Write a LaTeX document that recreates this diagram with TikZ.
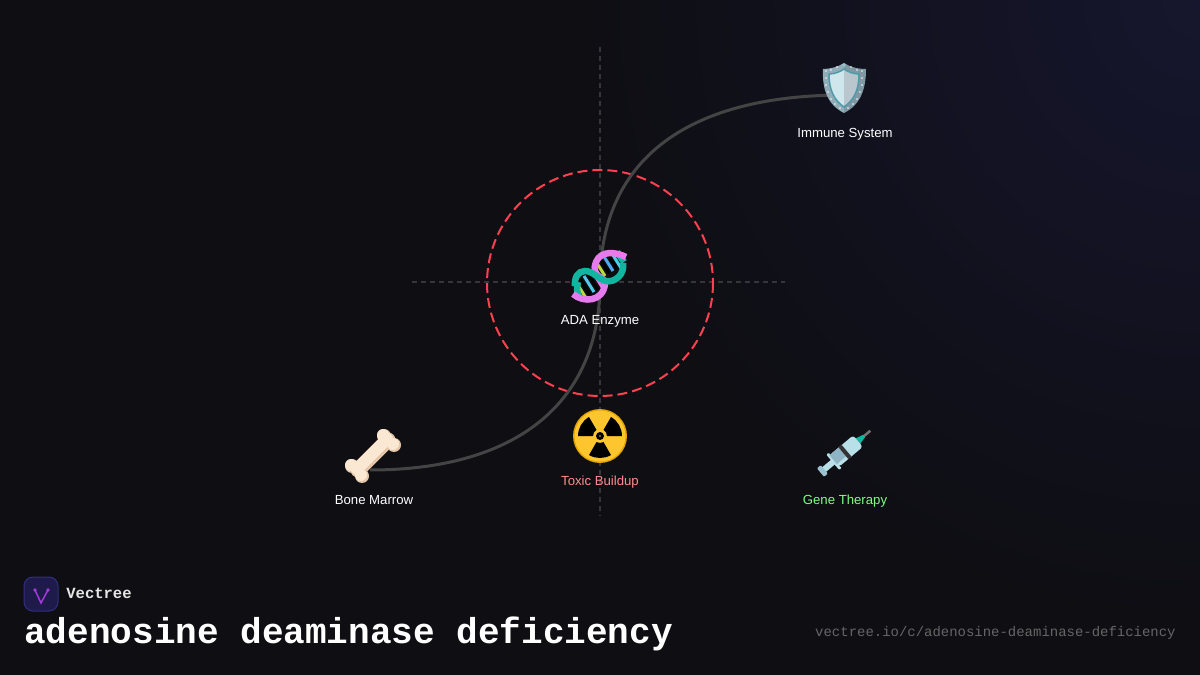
\documentclass[tikz,border=0pt]{standalone}
\usepackage{fontspec}
\setmainfont{Liberation Sans}
\setmonofont{Liberation Mono}
\usetikzlibrary{positioning}
\definecolor{bgdark}{HTML}{0E0E13}
\definecolor{bgblue}{HTML}{16162E}
\definecolor{guide}{HTML}{35353A}
\definecolor{wire}{HTML}{444444}
\definecolor{ring}{HTML}{FF4050}
\definecolor{helixpink}{HTML}{E57BEC}
\definecolor{helixteal}{HTML}{12B5A0}
\definecolor{rungyellow}{HTML}{B5DC3C}
\definecolor{rungblue}{HTML}{4FA8F0}
\definecolor{rungcyan}{HTML}{55C8E8}
\definecolor{bone}{HTML}{FBE8D3}
\definecolor{boneedge}{HTML}{E6C6A8}
\definecolor{glass}{HTML}{B9E0E8}
\definecolor{liquid}{HTML}{8FB4C6}
\definecolor{rim}{HTML}{93ADB8}
\definecolor{rimdark}{HTML}{7F98A4}
\definecolor{plate}{HTML}{CFE6EC}
\definecolor{platedark}{HTML}{B9C6CE}
\definecolor{shieldline}{HTML}{4F9AA8}
\definecolor{trefoil}{HTML}{FDC62E}
\definecolor{trefoiledge}{HTML}{E3A400}
\definecolor{logofill}{HTML}{1E1B4B}
\definecolor{logoline}{HTML}{312E81}
\definecolor{logomark}{HTML}{A03BD8}
\tikzset{
  guideline/.style = {guide, line width = 0.045cm, dash pattern = on 0.1cm off 0.08cm},
  caption/.style = {font = \fontsize{7.5pt}{9pt}\selectfont, text = white, anchor = base},
  rung/.style = {line width = 0.06cm}
}
\begin{document}
\begin{tikzpicture}[x = 0.02cm, y = -0.02cm]
  \useasboundingbox (0, 0) rectangle (1200, 675);
  \fill [bgdark] (0, 0) rectangle (1200, 675);
  \begin{scope}
    \clip (0, 0) rectangle (1200, 675);
    \shade [inner color = bgblue, outer color = bgdark] (1200, 0) circle (620);
  \end{scope}
  % guides
  \coordinate (vtop) at (600, 47);
  \coordinate (vbot) at (600, 515);
  \coordinate (hleft) at (412, 282);
  \coordinate (hright) at (785, 282);
  \coordinate (hub) at (600, 283);
  \draw [guideline] (vtop) -- (vbot);
  \draw [guideline] (hleft) -- (hright);
  \draw [ring, line width = 0.04cm, dash pattern = on 0.2cm off 0.1cm] (hub) circle (113);
  % connector
  \coordinate (marrow) at (370, 470);
  \coordinate (immune) at (845, 95);
  \draw [wire, line width = 0.06cm] (marrow) .. controls (520, 470) and (600, 400) .. (hub)
    .. controls (600, 165) and (680, 95) .. (immune);
  % dna
  \fill [bgdark] (609, 267) circle (13) (589, 286) circle (13);
  \foreach \xa/\ya/\c in {
      581/290/rungyellow, 585/287/black, 589/284/rungcyan, 593/282/black, 597/279/helixpink,
      600/268/rungyellow, 604/265/black, 608/263/rungblue, 612/261/black, 616/260/rungcyan}
    \draw [rung, \c] (\xa-5, \ya-8) -- (\xa+5, \ya+8);
  \draw [helixteal, line width = 0.13cm] (578, 282) .. controls (576, 288) and (577, 293) .. (580, 299);
  \draw [helixteal, line width = 0.13cm] (617, 252) -- (624, 262);
  \draw [helixpink, line width = 0.13cm] (573, 294) .. controls (583, 303) and (603, 302) .. (605, 284)
    .. controls (606, 276) and (590, 278) .. (596, 262) .. controls (601, 250) and (616, 252) .. (626, 257);
  \draw [helixteal, line width = 0.13cm] (623, 263) .. controls (625, 274) and (615, 283) .. (606, 281)
    .. controls (598, 279) and (593, 271) .. (585, 271) .. controls (578, 271) and (574, 278) .. (575, 286);
  \node (ada) at (600, 325) [caption] {ADA Enzyme};
  % shield
  \fill [rim] (844, 63) .. controls (838, 67) and (830, 69) .. (823, 69)
    .. controls (822, 90) and (828, 105) .. (844, 113) -- cycle;
  \fill [rimdark] (844, 63) .. controls (850, 67) and (858, 69) .. (866, 69)
    .. controls (866, 90) and (860, 105) .. (844, 113) -- cycle;
  \fill [plate] (844, 69) .. controls (840, 72) and (834, 74) .. (829, 74)
    .. controls (829, 90) and (834, 100) .. (844, 107) -- cycle;
  \fill [platedark] (844, 69) .. controls (848, 72) and (854, 74) .. (859, 74)
    .. controls (859, 90) and (854, 100) .. (844, 107) -- cycle;
  \draw [shieldline, line width = 0.03cm] (844, 69) .. controls (840, 72) and (834, 74) .. (829, 74)
    .. controls (829, 90) and (834, 100) .. (844, 107) .. controls (854, 100) and (859, 90) .. (859, 74)
    .. controls (854, 74) and (848, 72) .. (844, 69) -- cycle;
  \foreach \xa/\ya in {826/71, 826/78, 826/85, 828/92, 831/99, 835/104, 840/108, 848/108, 853/104,
      857/99, 860/92, 862/85, 862/78, 862/71, 831/70, 837/67, 851/67, 857/70}
    \fill [white!85!plate] (\xa, \ya) circle (0.9);
  \fill [shieldline!60!white] (844, 65) circle (1.8);
  \node (shield) at (845, 138) [caption] {Immune System};
  % bone
  \draw [boneedge, line width = 0.3cm, line cap = round] (358, 470) -- (388, 440);
  \foreach \xa/\ya in {384/436, 394/445, 352/466, 362/476}
    \fill [boneedge] (\xa, \ya) circle (7);
  \draw [bone, line width = 0.24cm, line cap = round] (357, 469) -- (387, 439);
  \foreach \xa/\ya in {383/435, 393/444, 351/465, 361/475}
    \fill [bone] (\xa, \ya) circle (6);
  \node (marrowlabel) at (374, 504) [caption] {Bone Marrow};
  % radiation
  \coordinate (rad) at (600, 436);
  \fill [trefoiledge] (rad) circle (27);
  \fill [trefoil] (rad) circle (25.5);
  \foreach \a in {90, 210, 330}
    \fill [black, shift = {(rad)}] (\a-30:7) arc [start angle = \a-30, end angle = \a+30, radius = 7]
      -- (\a+30:22) arc [start angle = \a+30, end angle = \a-30, radius = 22] -- cycle;
  \fill [black] (rad) circle (4);
  \fill [trefoil!60!black] (rad) circle (1.2);
  \node (toxic) at (600, 485) [caption, text = red!45!white] {Toxic Buildup};
  % syringe
  \begin{scope}[shift = {(845, 452)}, rotate = 40]
    \draw [white!45!black, line width = 0.05cm] (24, 0) -- (33, 0);
    \fill [helixteal] (17, -3.5) -- (25, -1.5) -- (25, 1.5) -- (17, 3.5) -- cycle;
    \fill [glass] (-28, -3) rectangle (-14, 3);
    \fill [liquid!70!glass, rounded corners = 0.02cm] (-32, -5.5) rectangle (-27, 5.5);
    \fill [glass, rounded corners = 0.02cm] (-16, -10) rectangle (-13, 10);
    \fill [glass, rounded corners = 0.06cm] (-14, -7.5) rectangle (17, 7.5);
    \fill [liquid] (-14, -7.5) rectangle (-2, 4);
    \fill [black!80] (-2, -7.5) rectangle (2, 7.5);
  \end{scope}
  \node (gene) at (845, 504) [caption, text = green!50!white] {Gene Therapy};
  % footer
  \draw [fill = logofill, draw = logoline, rounded corners = 0.18cm, line width = 0.02cm] (24, 577) rectangle (58, 611);
  \coordinate (logo) at (41, 603);
  \draw [logomark, line width = 0.03cm] (35, 590) -- (logo) -- (48, 590);
  \fill [logomark] (35, 590) circle (1.8) (48, 590) circle (1.8);
  \node (brand) at (66, 593.5) [anchor = west, inner sep = 0, text = white!90!black, font = \ttfamily\bfseries\fontsize{8.85pt}{11pt}\selectfont] {Vectree};
  \node (title) at (24, 634) [anchor = west, inner sep = 0, text = white, font = \ttfamily\bfseries\fontsize{20.5pt}{24pt}\selectfont] {adenosine deaminase deficiency};
  \node (url) at (1176, 633) [anchor = east, inner sep = 0, text = white!40!black, font = \ttfamily\fontsize{7.95pt}{10pt}\selectfont] {vectree.io/c/adenosine-deaminase-deficiency};
\end{tikzpicture}
\end{document}
